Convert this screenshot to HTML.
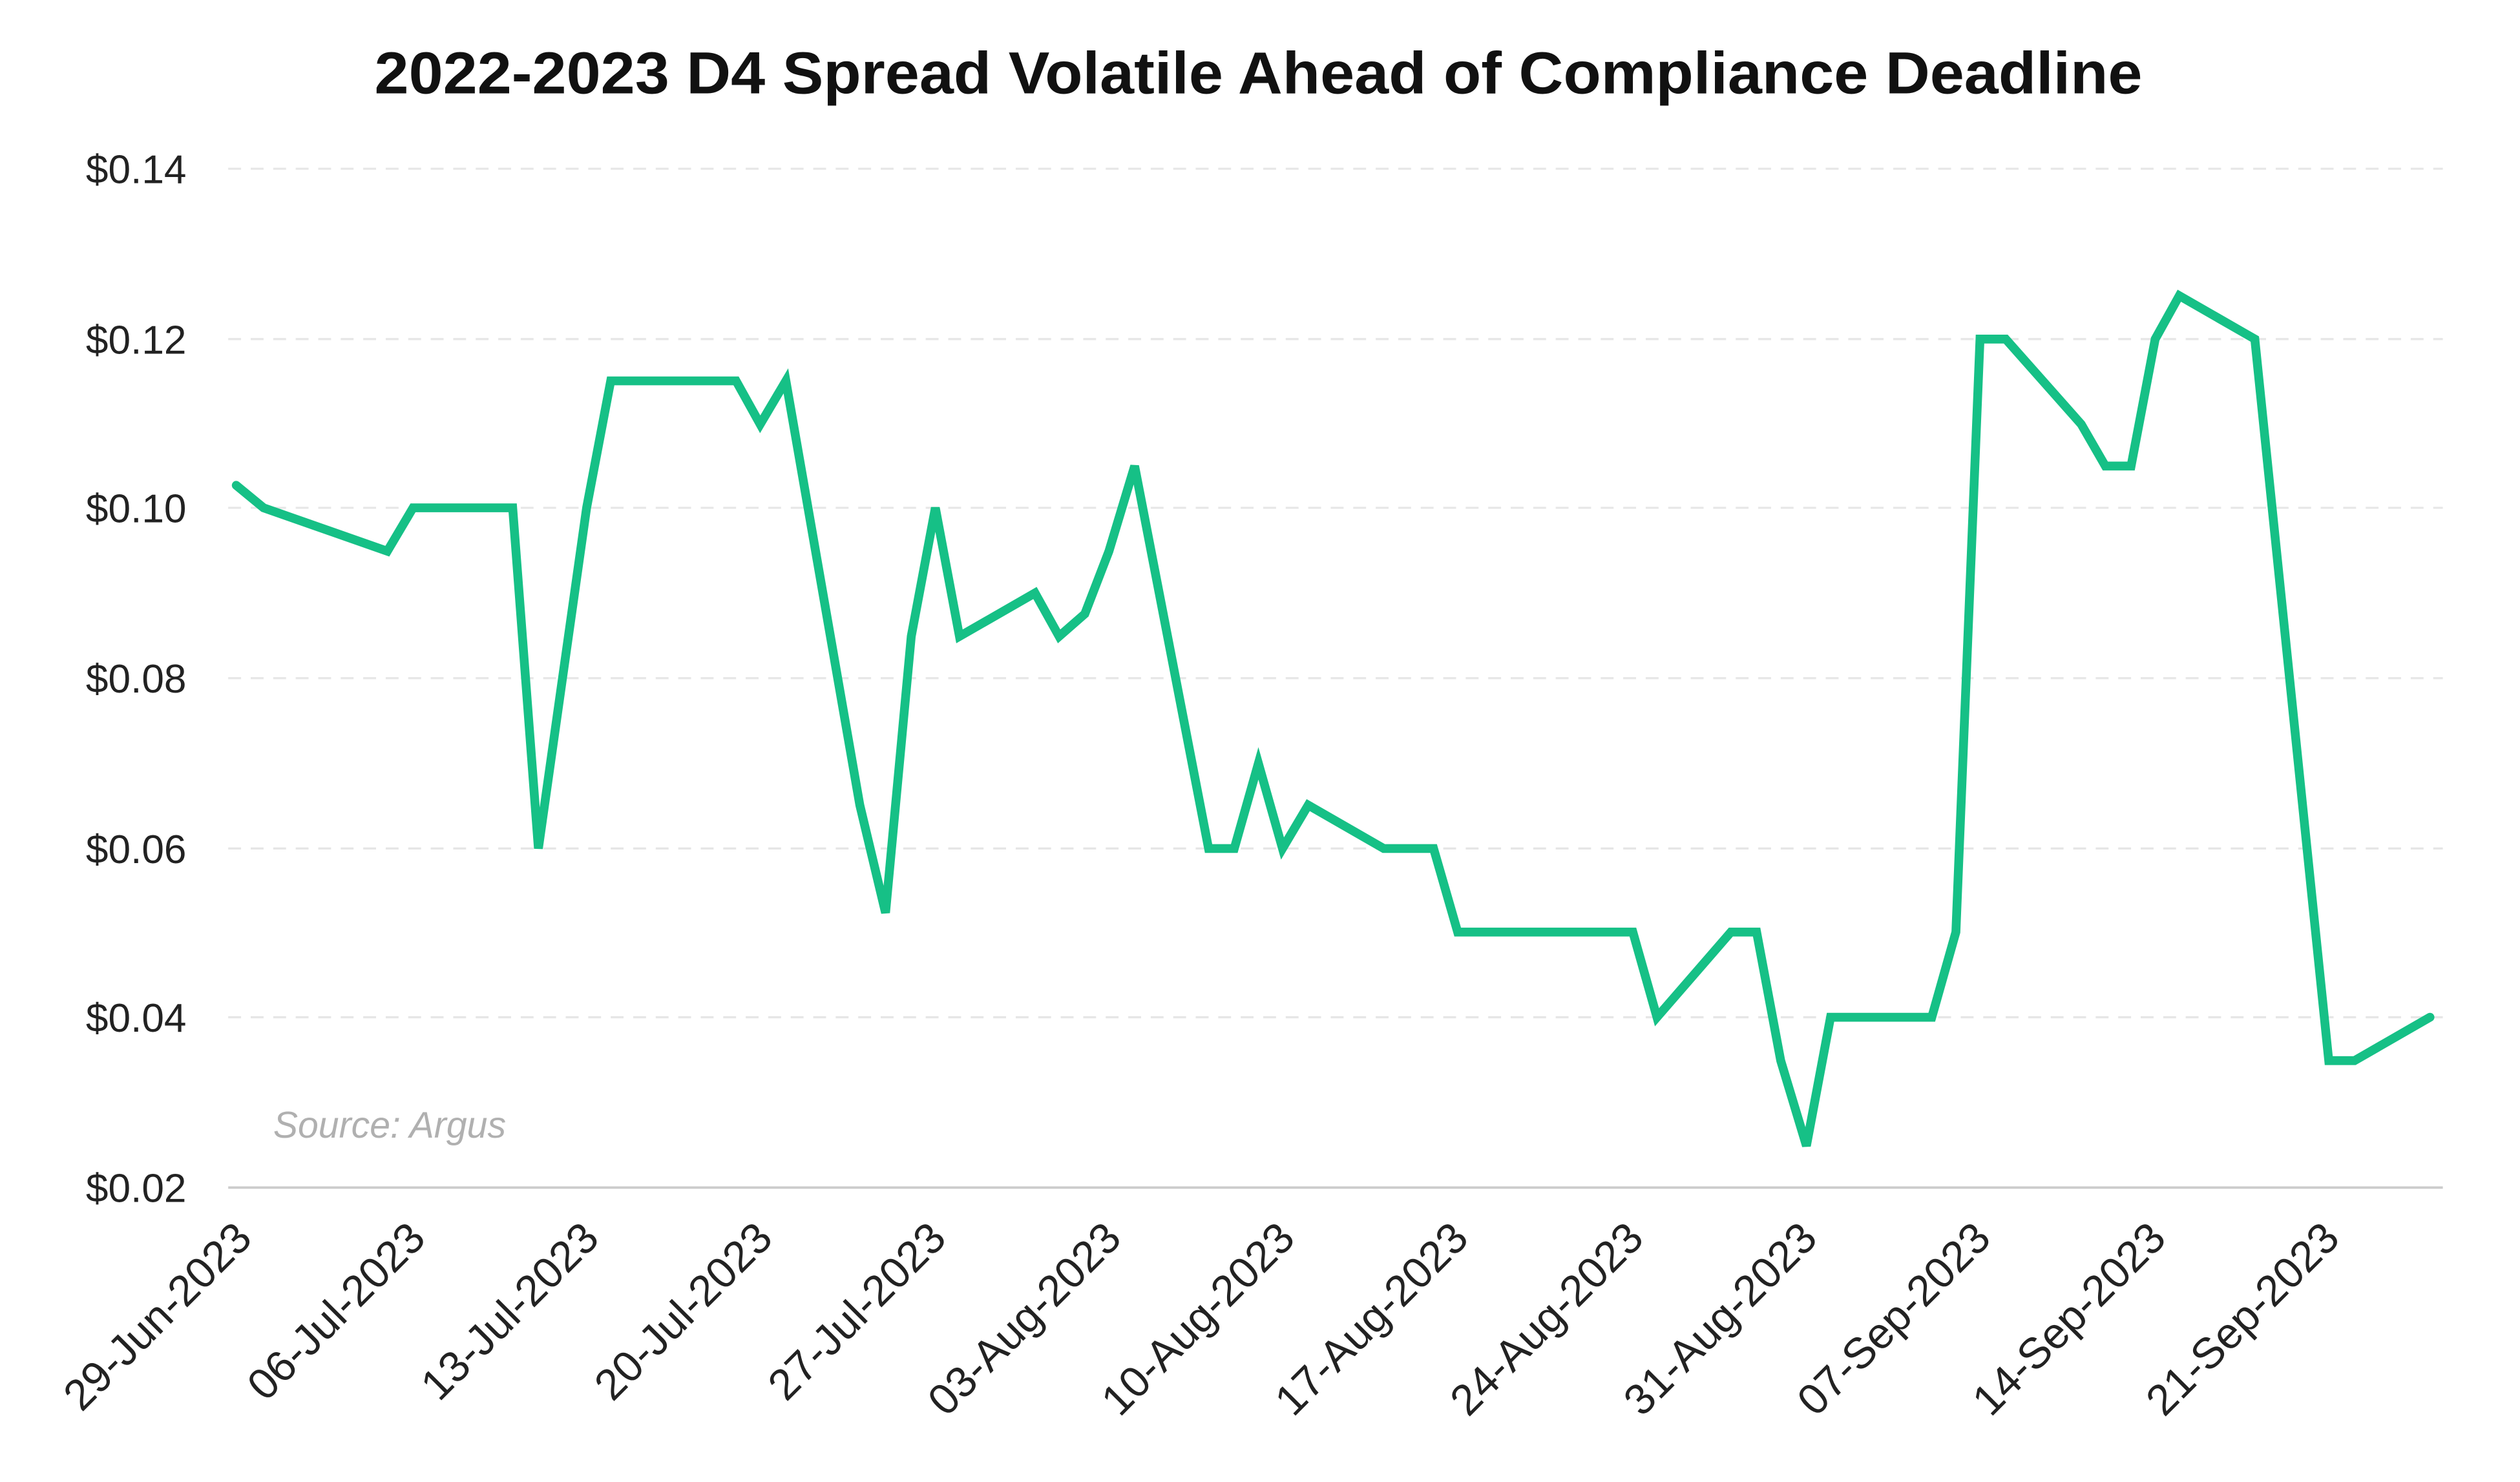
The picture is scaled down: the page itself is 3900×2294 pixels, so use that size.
<!DOCTYPE html>
<html><head><meta charset="utf-8"><style>
html,body{margin:0;padding:0;background:#fff;}
svg{display:block;}
text{font-family:"Liberation Sans",sans-serif;}
</style></head><body>
<svg width="3900" height="2294" viewBox="0 0 1568 922.2" preserveAspectRatio="none" xmlns="http://www.w3.org/2000/svg">
<rect width="1568" height="922.2" fill="#fff"/>
<text x="783" y="58" text-anchor="middle" font-size="37" font-weight="bold" fill="#111" textLength="1100" lengthAdjust="spacingAndGlyphs">2022-2023 D4 Spread Volatile Ahead of Compliance Deadline</text>
<g stroke="#e6e6e6" stroke-width="1.3" stroke-dasharray="8,6">
<line x1="142" x2="1520" y1="105" y2="105"/>
<line x1="142" x2="1520" y1="211" y2="211"/>
<line x1="142" x2="1520" y1="316" y2="316"/>
<line x1="142" x2="1520" y1="422" y2="422"/>
<line x1="142" x2="1520" y1="528" y2="528"/>
<line x1="142" x2="1520" y1="633" y2="633"/>
</g>
<line x1="142" x2="1520" y1="739" y2="739" stroke="#ccc" stroke-width="1.5"/>
<g font-size="25" fill="#222" text-anchor="end">
<text x="116" y="114">$0.14</text>
<text x="116" y="220">$0.12</text>
<text x="116" y="325">$0.10</text>
<text x="116" y="431">$0.08</text>
<text x="116" y="537">$0.06</text>
<text x="116" y="642">$0.04</text>
<text x="116" y="748">$0.02</text>
</g>
<g font-size="27" fill="#222" text-anchor="end">
<text transform="translate(158,772) rotate(-45)">29-Jun-2023</text>
<text transform="translate(266,772) rotate(-45)">06-Jul-2023</text>
<text transform="translate(374,772) rotate(-45)">13-Jul-2023</text>
<text transform="translate(482,772) rotate(-45)">20-Jul-2023</text>
<text transform="translate(590,772) rotate(-45)">27-Jul-2023</text>
<text transform="translate(699,772) rotate(-45)">03-Aug-2023</text>
<text transform="translate(807,772) rotate(-45)">10-Aug-2023</text>
<text transform="translate(915,772) rotate(-45)">17-Aug-2023</text>
<text transform="translate(1024,772) rotate(-45)">24-Aug-2023</text>
<text transform="translate(1132,772) rotate(-45)">31-Aug-2023</text>
<text transform="translate(1240,772) rotate(-45)">07-Sep-2023</text>
<text transform="translate(1349,772) rotate(-45)">14-Sep-2023</text>
<text transform="translate(1457,772) rotate(-45)">21-Sep-2023</text>
</g>
<text x="170" y="708" font-size="23" font-style="italic" fill="#b0b0b0">Source: Argus</text>
<polyline fill="none" stroke="#16c086" stroke-width="5.5" stroke-linejoin="miter" stroke-linecap="round"
points="147,302 164,316 241,343 257,316 319,316 335,528 365,316 380,237 458,237 473,264 489,237 535,501 551,568 567,396 582,316 597,396 644,369 659,396 675,382 690,343 706,290 752,528 768,528 783,475 798,528 814,501 861,528 892,528 907,580 1016,580 1031,633 1077,580 1093,580 1108,660 1124,713 1139,633 1202,633 1217,580 1232,211 1248,211 1295,264 1310,290 1326,290 1341,211 1356,184 1403,211 1449,660 1465,660 1512,633"/>
</svg>
</body></html>
